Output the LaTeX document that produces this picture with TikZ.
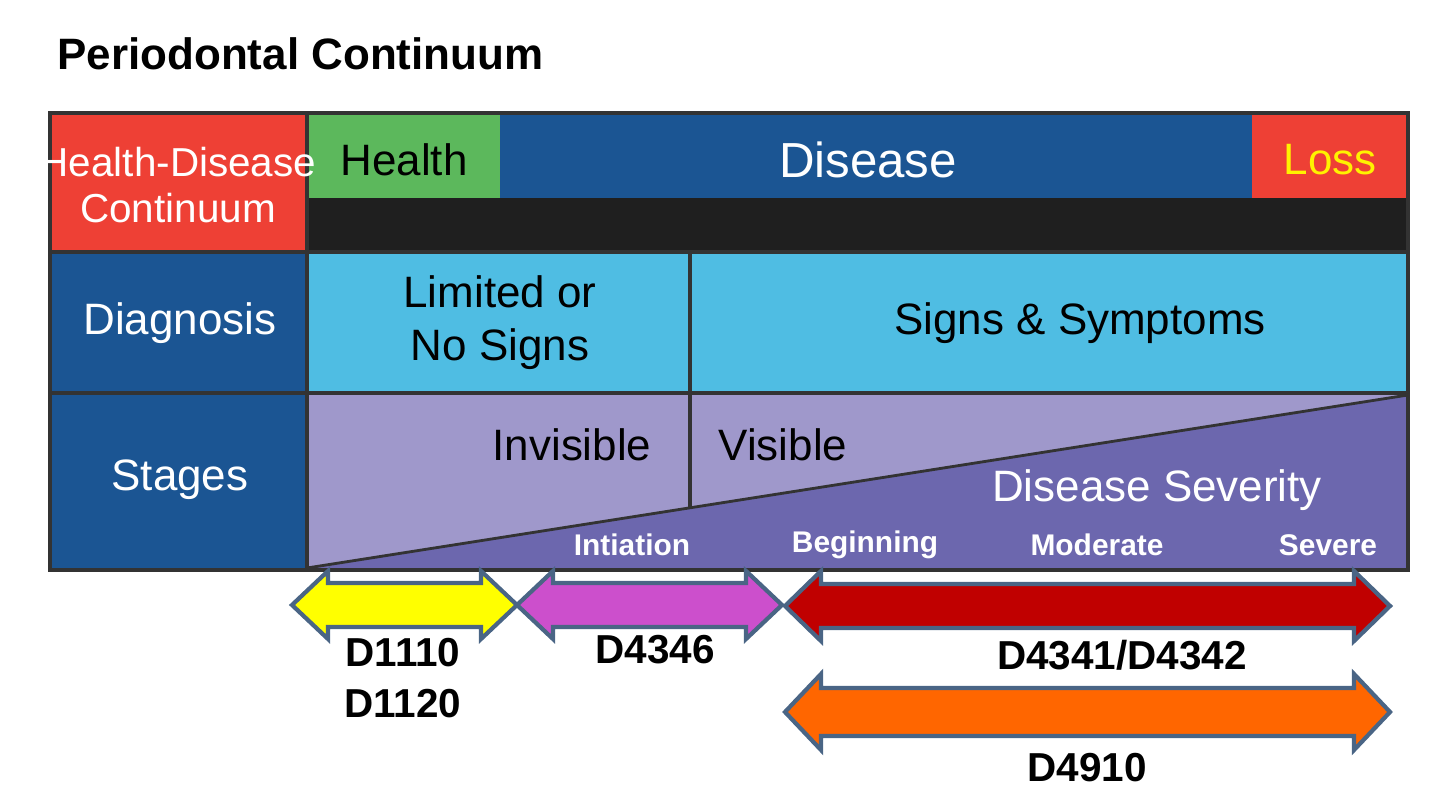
\documentclass[tikz,border=0pt]{standalone}
\usepackage{fontspec}
\setmainfont{Liberation Sans}
\definecolor{hred}{HTML}{EE4035}
\definecolor{hgreen}{HTML}{5CB85C}
\definecolor{dblue}{HTML}{1B5593}
\definecolor{lblue}{HTML}{4FBDE3}
\definecolor{lpurp}{HTML}{9F98CB}
\definecolor{dpurp}{HTML}{6C67AE}
\definecolor{aline}{HTML}{4A6585}
\definecolor{ayel}{HTML}{FFFF00}
\definecolor{amag}{HTML}{CC4FCC}
\definecolor{adred}{HTML}{C00000}
\definecolor{aorg}{HTML}{FF6600}
\newcommand{\dblarr}[7]{% x1 x2 yc headlen headhalf bodyhalf color
 \filldraw[fill=#7,draw=aline,line width=1.2pt] (#1,#3) -- ({#1+#4},{#3-#5}) -- ({#1+#4},{#3-#6}) -- ({#2-#4},{#3-#6}) -- ({#2-#4},{#3-#5}) -- (#2,#3) -- ({#2-#4},{#3+#5}) -- ({#2-#4},{#3+#6}) -- ({#1+#4},{#3+#6}) -- ({#1+#4},{#3+#5}) -- cycle;}
\tikzset{
 cell/.style={font=\fontsize{12.5}{14}\selectfont},
 small/.style={font=\bfseries\fontsize{8.5}{10}\selectfont,text=white},
 code/.style={font=\bfseries\fontsize{11.5}{14.5}\selectfont}
}
\begin{document}
\begin{tikzpicture}[x=0.01cm,y=-0.01cm]
\useasboundingbox (0,0) rectangle (1440,798);
\node[anchor=base west,font=\bfseries\fontsize{12.5}{15}\selectfont] (title) at (45,70) {Periodontal Continuum};
% row 1
\fill[hred] (50,113) rectangle (307,252);
\fill[hgreen] (307,113) rectangle (500,198);
\fill[dblue] (500,113) rectangle (1252,198);
\fill[hred] (1252,113) rectangle (1408,198);
\fill[black!88] (307,198) rectangle (1408,252);
% row 2
\fill[dblue] (50,252) rectangle (307,393);
\fill[lblue] (307,252) rectangle (1408,393);
% row 3
\fill[dblue] (50,393) rectangle (307,570);
\fill[lpurp] (307,393) rectangle (1408,570);
\fill[dpurp] (307,568) -- (1408,395) -- (1408,570) -- cycle;
% lines
\draw[black!80,line width=1pt] (50,113) rectangle (1408,570);
\draw[black!80,line width=1pt] (307,113) -- (307,570) (50,252) -- (1408,252) (50,393) -- (1408,393) (690,252) -- (690,508);
\draw[black!80,line width=0.8pt] (307,568) -- (1408,395);
% texts
\node[cell,text=white,align=center,font=\fontsize{11.5}{13}\selectfont] (hdc) at (178,185) {Health-Disease\\Continuum};
\node[cell] (health) at (404,160) {Health};
\node[cell,text=white,font=\fontsize{14}{16}\selectfont] (disease) at (868,160) {Disease};
\node[cell,text=yellow] (loss) at (1330,160) {Loss};
\node[cell,text=white] (diag) at (180,323) {Diagnosis};
\node[cell,align=center,font=\fontsize{12.5}{15}\selectfont] (lim) at (500,323) {Limited or\\No Signs};
\node[cell] (ss) at (1080,323) {Signs \& Symptoms};
\node[cell,text=white] (stages) at (180,480) {Stages};
\node[cell] (inv) at (572,445) {Invisible};
\node[cell] (vis) at (783,445) {Visible};
\node[cell,text=white] (sev) at (1157,490) {Disease Severity};
\node[small] (ini) at (632,545) {Intiation};
\node[small] (beg) at (865,545) {Beginning};
\node[small] (mod) at (1097,545) {Moderate};
\node[small] (sevr) at (1328,545) {Severe};
% arrows
\dblarr{292}{517}{605}{36}{34}{22}{ayel}
\dblarr{517}{782}{605}{36}{34}{22}{amag}
\dblarr{785}{1390}{606}{36}{35}{22}{adred}
\dblarr{785}{1390}{712}{36}{38}{24}{aorg}
\node[code,align=center] (c1) at (403,678) {D1110\\D1120};
\node[code] (c2) at (655,650) {D4346};
\node[code] (c3) at (1122,655) {D4341/D4342};
\node[code] (c4) at (1087,768) {D4910};
\end{tikzpicture}
\end{document}
